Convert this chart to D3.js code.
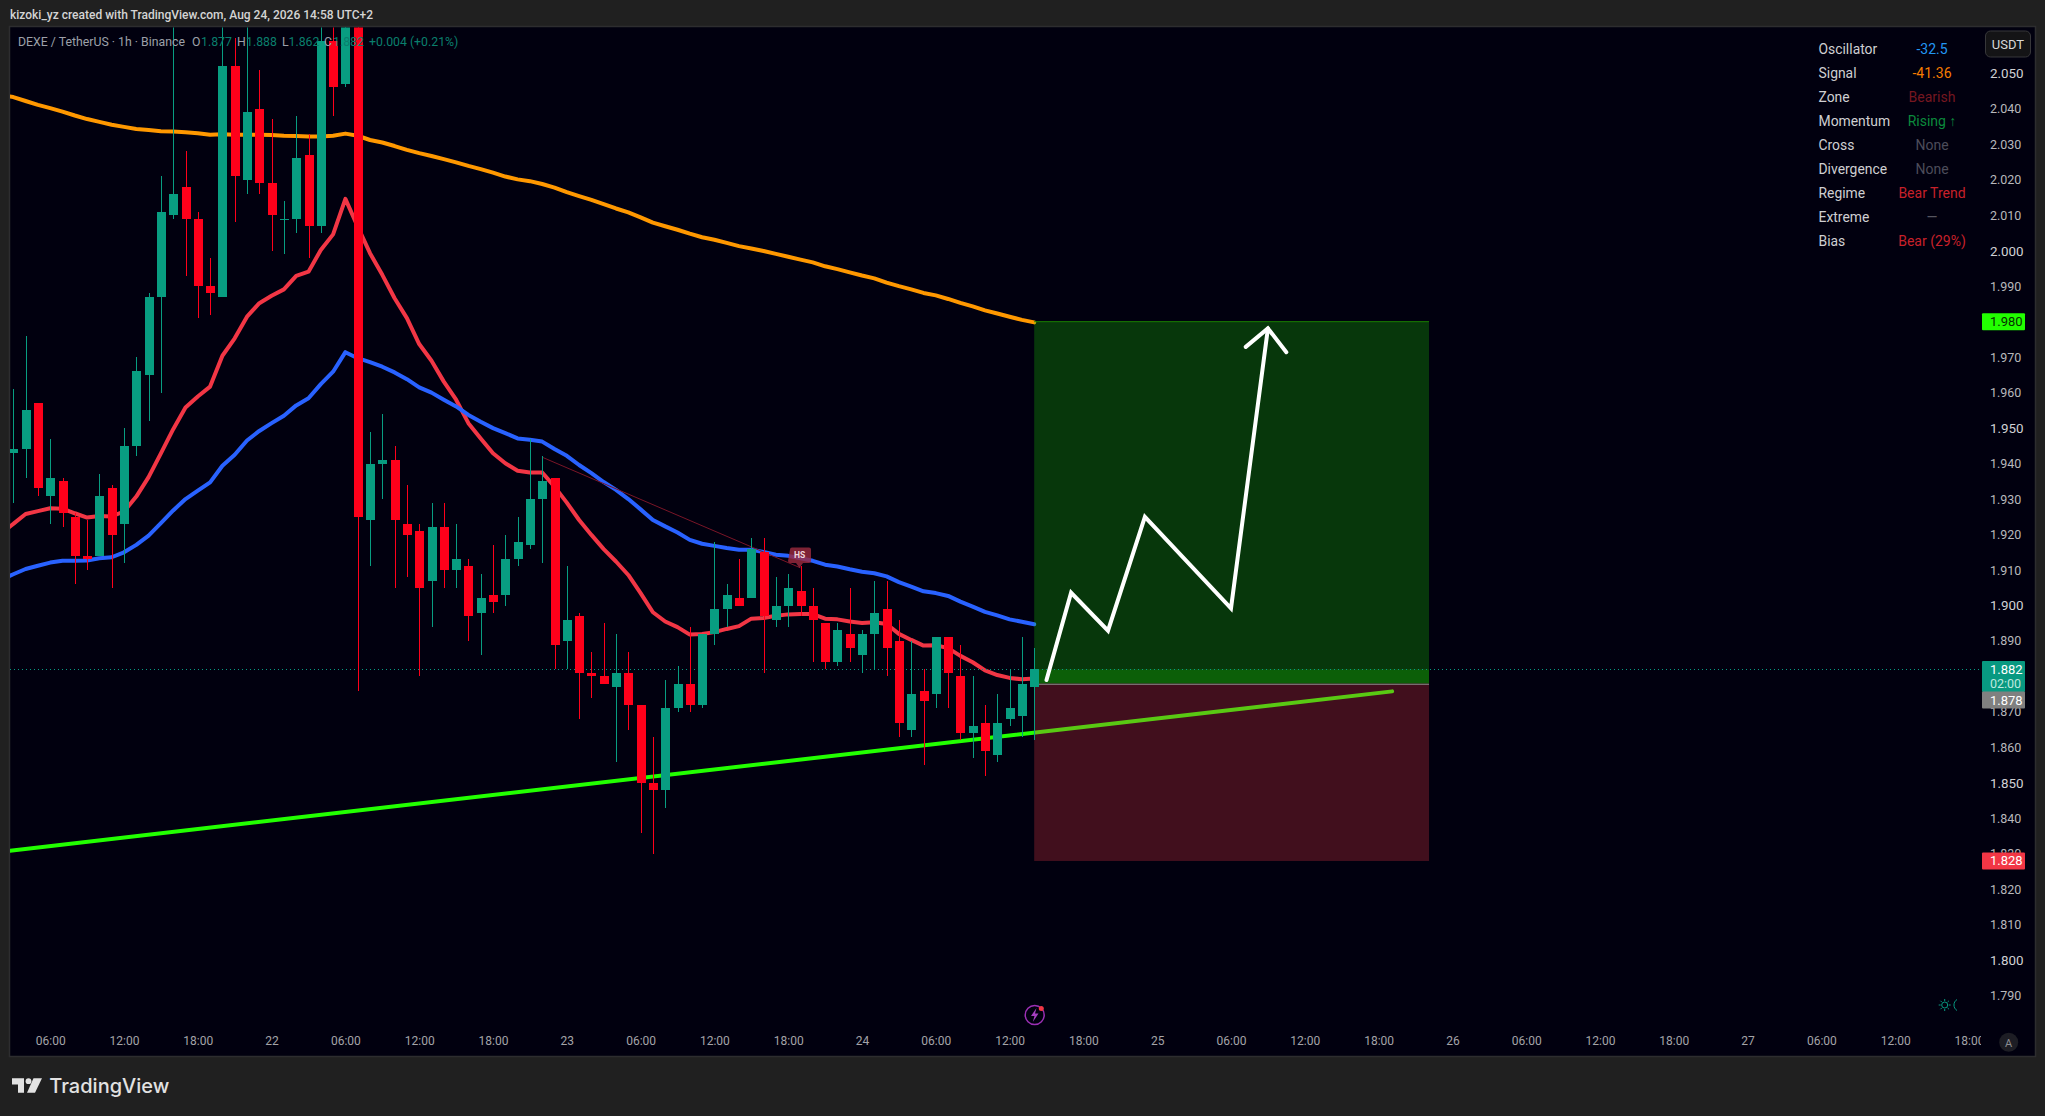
<!DOCTYPE html>
<html>
<head>
<meta charset="utf-8">
<style>
html,body{margin:0;padding:0;background:#202020;}
svg{display:block;}
text{font-family:Roboto,"Noto Sans",sans-serif;}
</style>
<script src="https://cdn.jsdelivr.net/npm/d3@7"></script>
</head>
<body>
<svg id="c" width="2045" height="1116"></svg>
<script>
// ---------- data: candles from index 0 (21 Aug 03:00), one per hour ----------
const opens = [1.943,1.944,1.957,1.931,1.935,1.925,1.914,1.914,1.933,1.923,1.945,1.965,1.987,2.010,2.018,2.009,1.990,1.987,2.052,2.020,2.040,2.019,2.009,2.009,2.027,2.007,2.059,2.047,2.080,1.924,1.940,1.941,1.923,1.921,1.907,1.922,1.910,1.911,1.898,1.903,1.903,1.913,1.917,1.930,1.936,1.890,1.897,1.881,1.880,1.877,1.881,1.872,1.850,1.848,1.871,1.878,1.872,1.892,1.899,1.902,1.902,1.915,1.896,1.900,1.904,1.900,1.895,1.884,1.892,1.886,1.892,1.899,1.890,1.865,1.876,1.875,1.891,1.880,1.864,1.867,1.858,1.868,1.869,1.877];
const highs = [1.961,1.976,1.957,1.947,1.936,1.926,1.924,1.937,1.934,1.950,1.970,1.988,2.021,2.075,2.028,2.011,1.998,2.075,2.060,2.075,2.051,2.037,2.014,2.038,2.033,2.075,2.075,2.085,2.090,1.949,1.954,1.945,1.934,1.923,1.929,1.929,1.923,1.913,1.909,1.917,1.920,1.925,1.947,1.942,1.936,1.911,1.898,1.887,1.895,1.892,1.887,1.872,1.863,1.879,1.883,1.894,1.892,1.918,1.906,1.913,1.919,1.919,1.908,1.909,1.911,1.905,1.895,1.895,1.905,1.893,1.907,1.907,1.896,1.890,1.882,1.891,1.891,1.889,1.880,1.872,1.875,1.882,1.891,1.888];
const lows = [1.929,1.936,1.931,1.923,1.922,1.906,1.910,1.914,1.905,1.912,1.942,1.952,1.960,2.009,1.993,1.981,1.982,1.987,2.008,2.016,2.016,2.000,1.999,2.005,1.998,2.005,2.038,2.046,1.876,1.911,1.930,1.905,1.908,1.880,1.894,1.905,1.905,1.890,1.886,1.898,1.900,1.911,1.916,1.912,1.882,1.882,1.868,1.874,1.878,1.856,1.865,1.836,1.830,1.843,1.870,1.870,1.871,1.889,1.894,1.900,1.902,1.881,1.894,1.894,1.897,1.884,1.882,1.883,1.884,1.881,1.882,1.880,1.863,1.863,1.855,1.871,1.871,1.862,1.857,1.852,1.856,1.866,1.863,1.862];
const closes = [1.944,1.955,1.933,1.936,1.926,1.914,1.913,1.931,1.920,1.945,1.966,1.987,2.011,2.016,2.009,1.990,1.988,2.052,2.021,2.039,2.019,2.010,2.009,2.026,2.007,2.059,2.046,2.080,1.925,1.940,1.941,1.924,1.920,1.905,1.922,1.910,1.913,1.897,1.902,1.901,1.913,1.918,1.930,1.935,1.889,1.896,1.881,1.880,1.878,1.881,1.872,1.850,1.848,1.871,1.878,1.872,1.892,1.899,1.903,1.900,1.916,1.897,1.900,1.905,1.900,1.896,1.884,1.893,1.888,1.892,1.898,1.888,1.867,1.875,1.873,1.891,1.881,1.864,1.866,1.859,1.867,1.871,1.878,1.882];

// moving averages, from index -1 to index 83
const orangeLine = [2.0438,2.0433,2.0422,2.0411,2.0402,2.0392,2.0381,2.0371,2.0363,2.0355,2.0349,2.0343,2.0340,2.0337,2.0336,2.0334,2.0331,2.0327,2.0328,2.0327,2.0327,2.0327,2.0326,2.0324,2.0323,2.0322,2.0322,2.0324,2.0330,2.0324,2.0312,2.0305,2.0295,2.0284,2.0275,2.0267,2.0258,2.0249,2.0239,2.0230,2.0220,2.0209,2.0201,2.0196,2.0188,2.0178,2.0165,2.0154,2.0143,2.0131,2.0119,2.0108,2.0094,2.0079,2.0069,2.0059,2.0048,2.0038,2.0031,2.0022,2.0013,2.0006,1.9999,1.9991,1.9983,1.9975,1.9967,1.9956,1.9948,1.9939,1.9930,1.9922,1.9910,1.9900,1.9891,1.9881,1.9874,1.9864,1.9853,1.9843,1.9832,1.9823,1.9814,1.9805,1.9798];
const redLine = [1.9204,1.9230,1.9258,1.9266,1.9274,1.9273,1.9260,1.9248,1.9252,1.9251,1.9265,1.9307,1.9362,1.9429,1.9497,1.9558,1.9589,1.9617,1.9704,1.9753,1.9814,1.9852,1.9873,1.9891,1.9929,1.9941,2.0002,2.0046,2.0146,2.0068,1.9993,1.9932,1.9866,1.9810,1.9737,1.9690,1.9631,1.9580,1.9514,1.9471,1.9429,1.9401,1.9380,1.9375,1.9375,1.9335,1.9290,1.9241,1.9199,1.9159,1.9124,1.9086,1.9035,1.8981,1.8955,1.8939,1.8918,1.8920,1.8925,1.8934,1.8942,1.8963,1.8965,1.8971,1.8975,1.8976,1.8976,1.8963,1.8961,1.8955,1.8951,1.8953,1.8948,1.8920,1.8903,1.8887,1.8888,1.8880,1.8858,1.8840,1.8817,1.8804,1.8796,1.8792,1.8794];
const blueLine = [1.9072,1.9088,1.9103,1.9112,1.9121,1.9126,1.9126,1.9127,1.9133,1.9136,1.9150,1.9171,1.9197,1.9232,1.9268,1.9300,1.9324,1.9347,1.9394,1.9425,1.9465,1.9492,1.9514,1.9535,1.9564,1.9584,1.9624,1.9659,1.9714,1.9697,1.9686,1.9673,1.9657,1.9638,1.9615,1.9600,1.9580,1.9561,1.9537,1.9518,1.9500,1.9486,1.9471,1.9467,1.9462,1.9441,1.9422,1.9396,1.9373,1.9348,1.9326,1.9300,1.9271,1.9241,1.9223,1.9206,1.9185,1.9174,1.9168,1.9162,1.9157,1.9157,1.9151,1.9143,1.9140,1.9133,1.9126,1.9115,1.9110,1.9102,1.9095,1.9091,1.9082,1.9066,1.9053,1.9040,1.9035,1.9027,1.9011,1.8997,1.8982,1.8972,1.8961,1.8954,1.8947];

// drawn trend line, projection, pattern line
const trendIdx = [-0.27,112.1];
const trendPrice = [1.8309,1.8758];
const pathIdx = [84,86,89,92,99,102];
const pathPrice = [1.8790,1.9036,1.8929,1.9250,1.8992,1.9781];
const headIdx = [100.2,102,103.5];
const headPrice = [1.9729,1.9781,1.9714];
const patternIdx = [43,64];
const patternPrice = [1.9418,1.9106];

// position tool
const boxStartIdx = 83, boxEndIdx = 115.1;
const targetPrice = 1.980, entryPrice = 1.878, stopPrice = 1.828, lastPrice = 1.882;

// axes (the 1.880 tick sits fully under the last-price tag, so it never shows)
const priceTicks = [2.05,2.04,2.03,2.02,2.01,2.00,1.99,1.98,1.97,1.96,1.95,1.94,1.93,1.92,1.91,1.90,1.89,1.87,1.86,1.85,1.84,1.83,1.82,1.81,1.80,1.79];
const majorPriceTicks = [2.05,2.00,1.95,1.90,1.85,1.80];
const timeTickIdx = [3,9,15,21,27,33,39,45,51,57,63,69,75,81,87,93,99,105,111,117,123,129,135,141,147,153,159];
const timeTickLabels = ["06:00","12:00","18:00","22","06:00","12:00","18:00","23","06:00","12:00","18:00","24","06:00","12:00","18:00","25","06:00","12:00","18:00","26","06:00","12:00","18:00","27","06:00","12:00","18:00"];

// status table
const tableLabels = ["Oscillator","Signal","Zone","Momentum","Cross","Divergence","Regime","Extreme","Bias"];
const tableValues = ["-32.5","-41.36","Bearish","Rising ↑","None","None","Bear Trend","—","Bear (29%)"];
const tableColors = ["#2196f3","#f57c00","#761720","#0b8a3c","#4c4c5a","#4c4c5a","#c8202a","#55555f","#c8202a"];

// ---------- colours ----------
const UP="#089d81", DOWN="#ff001a", BG="#01000f", OUTER="#202020", EDGE="#2d2d2f";

// ---------- scales ----------
const x = d3.scaleLinear().domain([0,83]).range([13.3,1034.2]);
const y = d3.scaleLinear().domain([1.79,2.05]).range([995.8,73.3]);
const svg = d3.select("#c");
const BW = 9;

// ---------- frame ----------
svg.append("rect").attr("width",2045).attr("height",1116).attr("fill",OUTER);
svg.append("rect").attr("x",9.5).attr("y",26.5).attr("width",2026).attr("height",1030)
   .attr("fill",BG).attr("stroke",EDGE).attr("stroke-width",1.5);
const defs = svg.append("defs");
defs.append("clipPath").attr("id","plot").append("rect").attr("x",10).attr("y",27.5).attr("width",1970).attr("height",1028);
defs.append("clipPath").attr("id","timeClip").append("rect").attr("x",10).attr("y",1020).attr("width",1971).attr("height",36);

svg.append("text").attr("x",10).attr("y",19).attr("fill","#d4d4d4").attr("font-size",12.5).attr("font-weight",500)
   .attr("textLength",363).attr("lengthAdjust","spacingAndGlyphs")
   .text("kizoki_yz created with TradingView.com, Aug 24, 2026 14:58 UTC+2");

const plot = svg.append("g").attr("clip-path","url(#plot)");

// ---------- indicator lines ----------
const lineGen = d3.line().x((d,i)=>x(i-1)).y(d=>y(d));
[[orangeLine,"#ff9800"],[redLine,"#f23645"],[blueLine,"#2962ff"]].forEach(([arr,col])=>{
  plot.append("path").datum(arr).attr("d",lineGen).attr("fill","none").attr("stroke",col)
      .attr("stroke-width",4).attr("stroke-linejoin","round").attr("stroke-linecap","round");
});
// trend line
const ptGen = (a,b)=>d3.line()(a.map((v,i)=>[x(v),y(b[i])]));
plot.append("path").attr("d",ptGen(trendIdx,trendPrice)).attr("fill","none").attr("stroke","#22ff00")
    .attr("stroke-width",4).attr("stroke-linecap","round");
plot.append("path").attr("d",ptGen(patternIdx,patternPrice)).attr("fill","none").attr("stroke","#7a1528").attr("stroke-width",1);

// ---------- position box ----------
const bx0=x(boxStartIdx), bx1=x(boxEndIdx);
plot.append("rect").attr("x",bx0).attr("width",bx1-bx0).attr("y",y(targetPrice)).attr("height",y(entryPrice)-y(targetPrice)).attr("fill","rgba(34,255,0,0.215)");
plot.append("rect").attr("x",bx0).attr("width",bx1-bx0).attr("y",y(lastPrice)).attr("height",y(entryPrice)-y(lastPrice)).attr("fill","rgba(34,255,0,0.2)");
plot.append("rect").attr("x",bx0).attr("width",bx1-bx0).attr("y",y(entryPrice)).attr("height",y(stopPrice)-y(entryPrice)).attr("fill","rgba(242,54,69,0.27)");
plot.append("rect").attr("x",bx0).attr("width",bx1-bx0).attr("y",y(targetPrice)-0.5).attr("height",1).attr("fill","#1a7f00");
plot.append("rect").attr("x",bx0).attr("width",bx1-bx0).attr("y",y(entryPrice)+0.2).attr("height",1).attr("fill","#8a8a8a");

// ---------- last price dotted line ----------
plot.append("line").attr("x1",10).attr("x2",1980).attr("y1",y(lastPrice)).attr("y2",y(lastPrice))
    .attr("stroke","#089981").attr("stroke-width",1).attr("stroke-dasharray","1,3").attr("shape-rendering","crispEdges");

// ---------- candles ----------
const cg = plot.append("g").attr("shape-rendering","crispEdges");
opens.forEach((o,i)=>{
  const c=closes[i],h=highs[i],l=lows[i],col=c>=o?UP:DOWN,cx=Math.round(x(i));
  cg.append("rect").attr("x",cx).attr("width",1).attr("y",y(h)).attr("height",y(l)-y(h)).attr("fill",col);
  const top=y(Math.max(o,c)),bot=y(Math.min(o,c));
  cg.append("rect").attr("x",cx-4).attr("width",BW).attr("y",top).attr("height",Math.max(1,bot-top)).attr("fill",col);
});

// ---------- projection ----------
plot.append("path").attr("d",ptGen(pathIdx,pathPrice)).attr("fill","none").attr("stroke","#fff")
    .attr("stroke-width",4).attr("stroke-linecap","round").attr("stroke-linejoin","miter");
plot.append("path").attr("d",ptGen(headIdx,headPrice)).attr("fill","none").attr("stroke","#fff")
    .attr("stroke-width",4).attr("stroke-linecap","round").attr("stroke-linejoin","miter");

// ---------- HS badge ----------
const hsX=x(patternIdx[1]), hsTip=y(patternPrice[1]);
svg.append("path").attr("d",`M${hsX-10.5} ${hsTip-18.5} a2 2 0 0 1 2 -2 h17 a2 2 0 0 1 2 2 v11.7 a2 2 0 0 1 -2 2 h-6 l-3.5 4.8 l-3.5 -4.8 h-6 a2 2 0 0 1 -2 -2 z`)
   .attr("fill","#9a2a3e").attr("fill-opacity",0.82);
svg.append("text").attr("x",hsX-1).attr("y",hsTip-10).attr("text-anchor","middle").attr("fill","#f0d8dc")
   .attr("font-size",8.5).attr("font-weight",700).text("HS");

// ---------- symbol legend ----------
const legendGray="#9da0a9", legendVal="#0a7f6d";
[["DEXE / TetherUS · 1h · Binance",18,legendGray],["O",192,legendGray],["1.877",201,legendVal],["H",237,legendGray],["1.888",246,legendVal],
 ["L",282,legendGray],["1.862",288.5,legendVal],["C",324,legendGray],["1.882",333,legendVal],["+0.004 (+0.21%)",369,legendVal]
].forEach(([t,px,col])=>{
  svg.append("text").attr("x",px).attr("y",46).attr("fill",col).attr("font-size",12.3).text(t);
});

// ---------- y axis ----------
const yAxis = d3.axisRight(y).tickValues(priceTicks).tickSize(0).tickPadding(0).tickFormat(d3.format(".3f"));
const yg = svg.append("g").attr("transform","translate(1990,0)").call(yAxis);
yg.select(".domain").remove();
yg.selectAll("text").attr("fill","#b8b8bc").attr("font-size",12.5).attr("font-family","Roboto");
yg.selectAll(".tick").filter(d=>majorPriceTicks.includes(d)).select("text")
  .attr("font-size",13.4).attr("fill","#d0d0d4");

// ---------- x axis ----------
const xAxis = d3.axisBottom(x).tickValues(timeTickIdx).tickSize(0).tickPadding(0).tickFormat((d,i)=>timeTickLabels[i]);
const xg = svg.append("g").attr("clip-path","url(#timeClip)").append("g").attr("transform","translate(0,1036)").call(xAxis);
xg.select(".domain").remove();
xg.selectAll("text").attr("fill","#a4a4a8").attr("font-size",12).attr("font-family","Roboto");

// ---------- status table ----------
tableLabels.forEach((t,i)=>{
  svg.append("text").attr("x",1818.5).attr("y",53.5+24*i).attr("fill","#cfcfd2").attr("font-size",13.9).text(t);
  svg.append("text").attr("x",1932).attr("y",53.5+24*i).attr("text-anchor","middle").attr("fill",tableColors[i]).attr("font-size",14).text(tableValues[i]);
});

// ---------- USDT button ----------
svg.append("rect").attr("x",1985.5).attr("y",31).attr("width",45).attr("height",26).attr("rx",5)
   .attr("fill","#141416").attr("stroke","#37373a");
svg.append("text").attr("x",2008).attr("y",49).attr("text-anchor","middle").attr("fill","#d8d8d8").attr("font-size",13).text("USDT");

// ---------- price labels ----------
function tag(yTop,h,fill,txt,col,dy){
  svg.append("rect").attr("x",1982).attr("y",yTop).attr("width",43).attr("height",h).attr("rx",1).attr("fill",fill);
  svg.append("text").attr("x",1990).attr("y",yTop+dy).attr("fill",col).attr("font-size",13).text(txt);
}
tag(y(targetPrice)-8.5,17,"#22ff00",d3.format(".3f")(targetPrice),"#063200",13);
tag(y(lastPrice)-8.5,31,"#089981",d3.format(".3f")(lastPrice),"#ffffff",13);
svg.append("text").attr("x",1990).attr("y",y(lastPrice)+18.5).attr("fill","#bfe8df").attr("font-size",12.5).text("02:00");
tag(y(entryPrice)+8,17,"#808080",d3.format(".3f")(entryPrice),"#ffffff",13);
tag(y(stopPrice)-8.5,17,"#f23645",d3.format(".3f")(stopPrice),"#ffffff",13);

// ---------- small icons ----------
svg.append("circle").attr("cx",1034.7).attr("cy",1015).attr("r",9.5).attr("fill","none").attr("stroke","#9c2fb5").attr("stroke-width",1.5);
svg.append("path").attr("d","M1036.5 1008 L1031 1016 H1034.5 L1032.8 1022 L1038.5 1013.6 H1035 Z").attr("fill","#a53fc0");
svg.append("circle").attr("cx",1041.3).attr("cy",1008.5).attr("r",2.5).attr("fill","#f23645");

const ic = svg.append("g").attr("stroke","#089981").attr("fill","none").attr("stroke-width",1);
ic.append("circle").attr("cx",1944.7).attr("cy",1005).attr("r",3);
d3.range(8).forEach(k=>{
  const a=k*Math.PI/4;
  ic.append("line").attr("x1",1944.7+4*Math.cos(a)).attr("y1",1005+4*Math.sin(a)).attr("x2",1944.7+6*Math.cos(a)).attr("y2",1005+6*Math.sin(a));
});
ic.append("path").attr("d","M1957 999.5 A6.5 6.5 0 0 0 1957 1010.5");

svg.append("circle").attr("cx",2008.7).attr("cy",1042.3).attr("r",9.5).attr("fill","#1d1d24");
svg.append("text").attr("x",2008.7).attr("y",1046.5).attr("text-anchor","middle").attr("fill","#8c8c90").attr("font-size",11).text("A");

// ---------- logo ----------
svg.append("path").attr("d","M12 1078.3 H24 V1092.7 H18 V1084.5 H12 Z").attr("fill","#e2e2e2");
svg.append("circle").attr("cx",28.5).attr("cy",1081.2).attr("r",2.9).attr("fill","#e2e2e2");
svg.append("path").attr("d","M33.5 1078.3 H42 L35 1092.7 H27 Z").attr("fill","#e2e2e2");
svg.append("text").attr("x",49.3).attr("y",1092.7).attr("fill","#e2e2e2").attr("font-size",20).attr("font-weight",500)
   .style("font-family","Inter").attr("textLength",120).attr("lengthAdjust","spacingAndGlyphs").text("TradingView");
</script>
</body>
</html>
